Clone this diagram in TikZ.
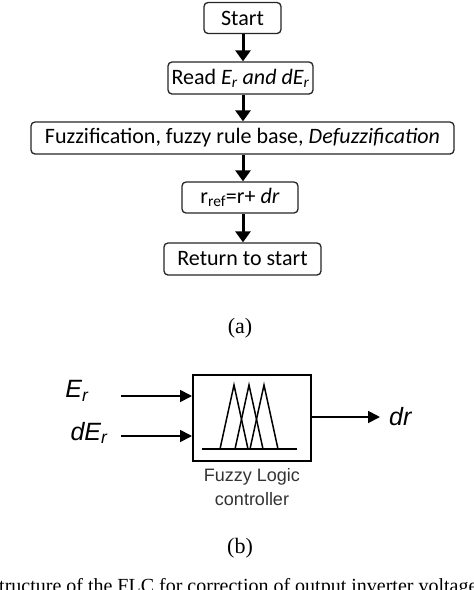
\documentclass[tikz,border=0pt]{standalone}
\usepackage{fontspec}
\setmainfont{Carlito}
\newfontfamily\arialf{Liberation Sans}
\newfontfamily\timesf{Liberation Serif}
\usetikzlibrary{arrows.meta}
\tikzset{
  flowbox/.style={draw=black!85, line width=1.3pt, rounded corners=4pt, inner sep=0pt,
    font=\fontsize{22}{26}\selectfont},
  flowarr/.style={line width=3pt, -{Triangle[length=11pt,width=15pt]}},
  sigarr/.style={line width=1.8pt, -{Triangle[length=12pt,width=12pt]}},
  siglbl/.style={font=\arialf\itshape\fontsize{25}{28}\selectfont, inner sep=0pt},
  flcbox/.style={draw, line width=2pt, inner sep=0pt, minimum width=118pt, minimum height=86pt},
  mf/.style={line width=1.5pt, line join=miter},
  sublbl/.style={font=\timesf\fontsize{22}{26}\selectfont, inner sep=0pt},
}
\begin{document}
\begin{tikzpicture}[x=1pt,y=-1pt]
\useasboundingbox (0,0) rectangle (474,590);
\clip (0,0) rectangle (474,590);
\fill[white] (0,0) rectangle (474,590);
% (a) flowchart
\node[flowbox, minimum width=77pt, minimum height=31pt] (start) at (242.5,18) {Start};
\node[flowbox, minimum width=145pt, minimum height=32pt] (read) at (240.5,78) {Read \textit{E\textsubscript{r} and dE\textsubscript{r}}};
\node[flowbox, minimum width=423pt, minimum height=32pt] (fuzz) at (242.5,138) {Fuzzification, fuzzy rule base, \textit{Defuzzification}};
\node[flowbox, minimum width=116pt, minimum height=31pt] (rref) at (240,197.5) {r\textsubscript{ref}=r+ \textit{dr}};
\node[flowbox, minimum width=157pt, minimum height=32pt] (ret) at (242.5,259) {Return to start};
\draw[flowarr] (start.south -| 243,0) -- (read.north -| 243,0);
\draw[flowarr] (read.south -| 243,0) -- (fuzz.north -| 243,0);
\draw[flowarr] (fuzz.south -| 243,0) -- (rref.north -| 243,0);
\draw[flowarr] (rref.south -| 243,0) -- (ret.north -| 243,0);
\node[sublbl] (la) at (240,328) {(a)};
% (b) fuzzy logic controller
\node[flcbox] (flc) at (252,418) {};
\coordinate (in1) at (121,396);
\coordinate (in2) at (121,436);
\coordinate (out) at (380,417);
\draw[sigarr] (in1) -- (in1 -| flc.west);
\draw[sigarr] (in2) -- (in2 -| flc.west);
\draw[sigarr] (out -| flc.east) -- (out);
\node[siglbl] (er) at (77,391) {E\textsubscript{r}};
\node[siglbl] (der) at (89,433) {dE\textsubscript{r}};
\node[siglbl, anchor=west] (dr) at (389,417) {dr};
\draw[mf] (202,449) -- (297,449);
\draw[mf] (220,449) -- (234,385) -- (248,449);
\draw[mf] (235,449) -- (249,385) -- (263,449);
\draw[mf] (250,449) -- (264,385) -- (278,449);
\node[font=\arialf\fontsize{18}{24}\selectfont, align=center, inner sep=0pt, text=black!80] (flcl) at (252,487) {Fuzzy Logic\\controller};
\node[sublbl] (lb) at (240,548) {(b)};
\node[font=\timesf\fontsize{20}{24}\selectfont, inner sep=0pt, anchor=base west] (cap) at (-1,592) {tructure of the FLC for correction of output inverter voltage};
\end{tikzpicture}
\end{document}
